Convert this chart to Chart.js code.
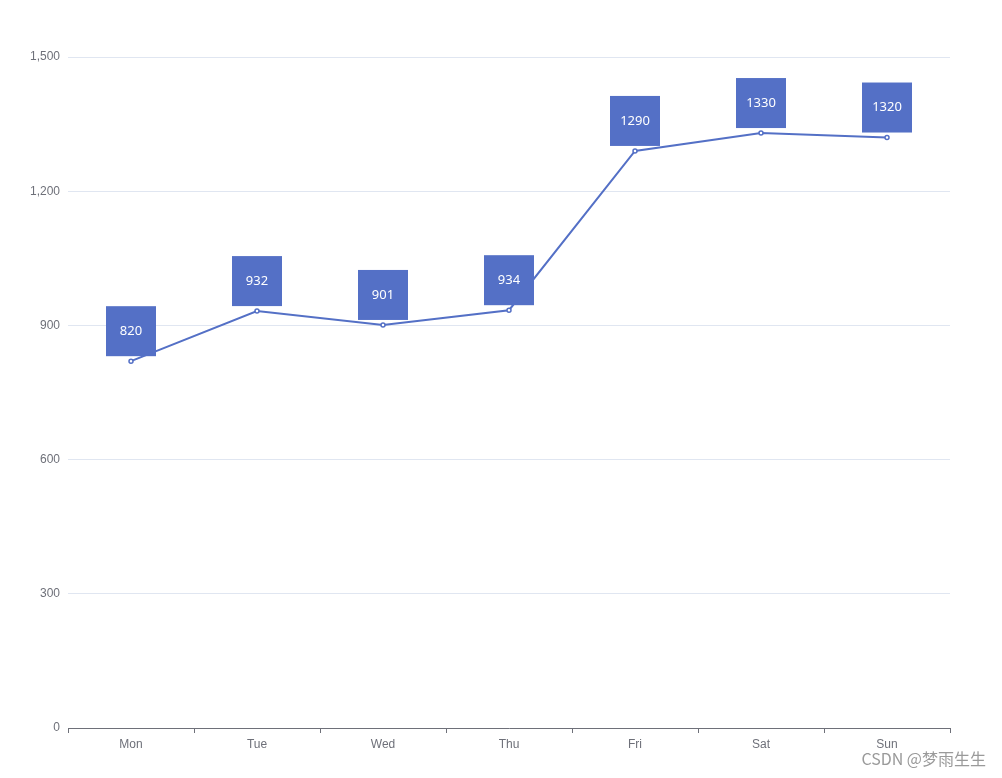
<!DOCTYPE html>
<html>
<head>
<meta charset="utf-8">
<script src="https://cdn.jsdelivr.net/npm/chart.js@4/dist/chart.umd.min.js"></script>
<style>
  body { margin: 0; background: #fff; }
  #wrap { position: relative; width: 1002px; height: 778px; }
  #mark { position: absolute; right: 16px; bottom: 8px; font: 16px "Noto Sans CJK SC", sans-serif; color: #9a9a9a; }
</style>
</head>
<body>
<div id="wrap">
  <canvas id="chart" width="1002" height="778"></canvas>
  <div id="mark">CSDN @梦雨生生</div>
</div>
<script>
const days = ['Mon', 'Tue', 'Wed', 'Thu', 'Fri', 'Sat', 'Sun'];
const values = [820, 932, 901, 934, 1290, 1330, 1320];
const yTicks = [0, 300, 600, 900, 1200, 1500];

// square value labels above each point
const boxLabels = {
  id: 'boxLabels',
  afterDatasetsDraw(chart) {
    let ctx = chart.ctx;
    let meta = chart.getDatasetMeta(0);
    ctx.save();
    meta.data.forEach(function(pt, i) {
      ctx.fillStyle = '#5470c6';
      ctx.fillRect(pt.x - 25, pt.y - 55, 50, 50);
      ctx.fillStyle = '#fff';
      ctx.font = '13px "Microsoft YaHei", "Noto Sans", sans-serif';
      ctx.textAlign = 'center';
      ctx.textBaseline = 'middle';
      ctx.fillText(String(values[i]), pt.x, pt.y - 30);
    });
    ctx.restore();
  }
};

new Chart(document.getElementById('chart'), {
  type: 'line',
  data: {
    labels: days,
    datasets: [{
      data: values,
      borderColor: '#5470c6',
      borderWidth: 2,
      pointRadius: 2,
      pointBorderWidth: 1.5,
      pointBackgroundColor: '#fff',
      pointBorderColor: '#5470c6',
      tension: 0
    }]
  },
  options: {
    responsive: false,
    animation: false,
    layout: { padding: { top: 57, right: 52, left: 0, bottom: 0 } },
    plugins: { legend: { display: false }, tooltip: { enabled: false } },
    scales: {
      x: {
        offset: true,
        afterFit: function(s) { s.height = 50; },
        grid: { offset: true, drawOnChartArea: false, color: '#6e7079', tickLength: 5 },
        border: { color: '#6e7079' },
        ticks: { color: '#6e7079', font: { size: 12 }, padding: 4 }
      },
      y: {
        min: 0, max: 1500,
        afterFit: function(s) { s.width = 68; },
        afterBuildTicks: function(s) { s.ticks = yTicks.map(v => ({ value: v })); },
        grid: { color: '#e0e6f1', drawTicks: false },
        border: { display: false },
        ticks: { color: '#6e7079', font: { size: 12 }, padding: 8,
          callback: v => v.toLocaleString('en-US') }
      }
    }
  },
  plugins: [boxLabels]
});
</script>
</body>
</html>
